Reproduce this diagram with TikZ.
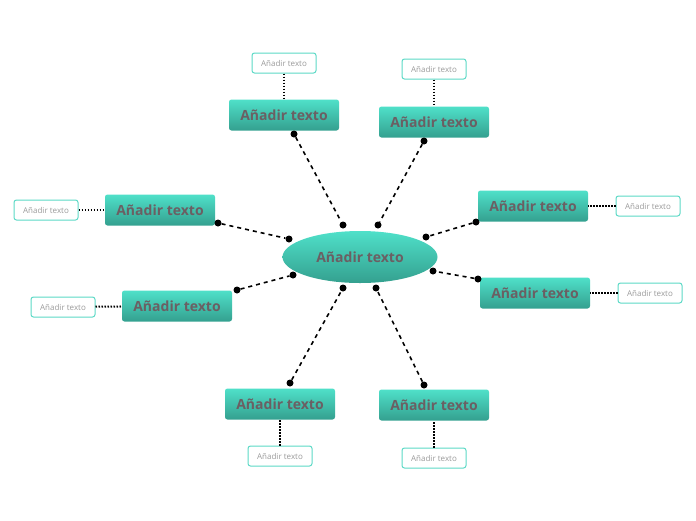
\documentclass[tikz,border=0pt]{standalone}
\usepackage{fontspec}
\setmainfont{Open Sans}
\definecolor{tl}{HTML}{4FE0C9}
\definecolor{td}{HTML}{34A08F}
\definecolor{tx}{HTML}{6B5F63}
\definecolor{sb}{HTML}{5CD9C6}
\definecolor{sg}{HTML}{9A9A9A}
\begin{document}
\begin{tikzpicture}[x=1pt,y=-1pt,
  mainbox/.style={rounded corners=2.5pt,top color=tl,bottom color=td,draw=none,minimum width=110pt,minimum height=31pt,inner sep=0pt,text=tx,font=\bfseries\fontsize{14}{16}\selectfont},
  subbox/.style={rounded corners=2.5pt,draw=sb,line width=1pt,fill=white,minimum width=64pt,minimum height=20pt,inner sep=0pt,text=sg,font=\fontsize{8}{10}\selectfont},
  centre/.style={ellipse,top color=tl,bottom color=td,minimum width=155pt,minimum height=52pt,inner sep=0pt,text=tx,font=\bfseries\fontsize{14}{16}\selectfont},
  dotn/.style={circle,fill=black,minimum size=7pt,inner sep=0pt},
  link/.style={dashed,line width=1.6pt,dash pattern=on 4pt off 4pt},
  tie/.style={line width=2pt,dash pattern=on 1.5pt off 1.5pt}]
\useasboundingbox (0,0) rectangle (696,520);
\usetikzlibrary{shapes.geometric}
\node[centre] (c) at (360,257) {Añadir texto};
\node[mainbox] (b1) at (284,115) {Añadir texto};
\node[mainbox] (b2) at (434,122) {Añadir texto};
\node[mainbox] (b3) at (160,210) {Añadir texto};
\node[mainbox] (b4) at (533,206) {Añadir texto};
\node[mainbox] (b5) at (177,306) {Añadir texto};
\node[mainbox] (b6) at (535,293) {Añadir texto};
\node[mainbox] (b7) at (280,404) {Añadir texto};
\node[mainbox] (b8) at (434,405) {Añadir texto};
\node[subbox] (s1) at (284,63) {Añadir texto};
\node[subbox] (s2) at (434,69) {Añadir texto};
\node[subbox] (s3) at (46,210) {Añadir texto};
\node[subbox] (s4) at (648,206) {Añadir texto};
\node[subbox] (s5) at (63,307) {Añadir texto};
\node[subbox] (s6) at (650,293) {Añadir texto};
\node[subbox] (s7) at (280,456) {Añadir texto};
\node[subbox] (s8) at (434,458) {Añadir texto};
\draw[tie] (s1) -- (b1);
\draw[tie] (s2) -- (b2);
\draw[tie] (s3) -- (b3);
\draw[tie] (s4) -- (b4);
\draw[tie] (s5) -- (b5);
\draw[tie] (s6) -- (b6);
\draw[tie] (s7) -- (b7);
\draw[tie] (s8) -- (b8);
\foreach \i/\bx/\by/\cx/\cy in {1/294/134/343/225, 2/424/141/378/225, 3/218/223/289/239, 4/476/222/426/237, 5/237/290/293/275, 6/478/279/433/271, 7/290/383/343/288, 8/424/385/376/288}{
  \node[dotn] (p\i) at (\bx,\by) {};
  \node[dotn] (q\i) at (\cx,\cy) {};
  \draw[link] (p\i) -- (q\i);
}
\end{tikzpicture}
\end{document}
